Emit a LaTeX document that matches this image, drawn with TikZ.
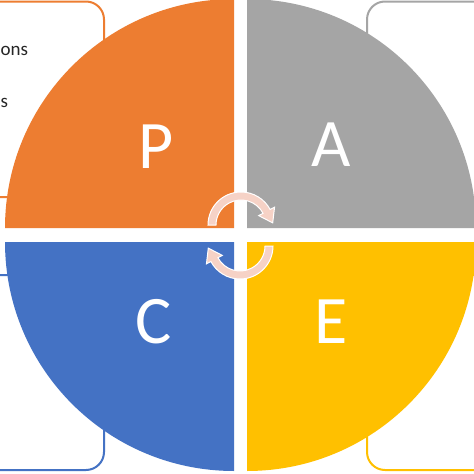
\documentclass[tikz,border=0pt]{standalone}
\usepackage{fontspec}
\setmainfont{Carlito}
\usetikzlibrary{calc}
\definecolor{porange}{HTML}{ED7D31}
\definecolor{pgray}{HTML}{A5A5A5}
\definecolor{pblue}{HTML}{4472C4}
\definecolor{pyellow}{HTML}{FFC000}
\definecolor{parrow}{HTML}{F6D2C6}
\definecolor{ptext}{HTML}{262626}
\tikzset{
  sidebox/.style={line width=2pt, rounded corners=18pt, fill=white},
  bigletter/.style={text=white, font=\fontsize{68}{68}\selectfont, inner sep=0pt},
  boxtext/.style={text=ptext, font=\fontsize{19}{23}\selectfont, inner sep=0pt},
  cyclearrow/.style={fill=parrow, draw=white, line width=1pt, line join=miter}
}
\begin{document}
\begin{tikzpicture}[x=1pt,y=1pt,yscale=-1]
\clip (0,0) rectangle (474,474);
\useasboundingbox (0,0) rectangle (474,474);
\fill[white] (0,0) rectangle (474,474);
% side boxes
\draw[sidebox, draw=porange] (-30,1.5) rectangle (104,197);
\draw[sidebox, draw=pgray] (367,1.5) rectangle (510,197);
\draw[sidebox, draw=pblue] (-30,275) rectangle (104,470);
\draw[sidebox, draw=pyellow] (367,275) rectangle (510,470);
\node[boxtext, anchor=base west] (t1) at (0.5,55) {ons};
\node[boxtext, anchor=base west] (t2) at (0.5,107) {s};
% quadrants
\fill[porange] (234,228) -- (5,228) arc[start angle=180, end angle=270, radius=229] -- cycle;
\fill[pgray] (247,228) -- (247,-1) arc[start angle=270, end angle=360, radius=229] -- cycle;
\fill[pblue] (234,242) -- (234,471) arc[start angle=90, end angle=180, radius=229] -- cycle;
\fill[pyellow] (247,242) -- (476,242) arc[start angle=0, end angle=90, radius=229] -- cycle;
% letters
\node[bigletter] (p) at (156,147) {P};
\node[bigletter] (a) at (331,145) {A};
\node[bigletter] (c) at (154,322) {C};
\node[bigletter] (e) at (331,322) {E};
% cycle arrows
\coordinate (c1) at (241,225);
\coordinate (c2) at (240,246);
\draw[cyclearrow] ($(c1)+(180:33)$) arc[start angle=180, end angle=332, radius=33]
  -- ($(c1)+(332:38)$) -- ($(c1)+(332:29)+(62:13)$) -- ($(c1)+(332:20)$)
  -- ($(c1)+(332:25)$) arc[start angle=332, end angle=180, radius=25] -- cycle;
\draw[cyclearrow] ($(c2)+(0:33)$) arc[start angle=0, end angle=152, radius=33]
  -- ($(c2)+(152:38)$) -- ($(c2)+(152:29)+(242:13)$) -- ($(c2)+(152:20)$)
  -- ($(c2)+(152:25)$) arc[start angle=152, end angle=0, radius=25] -- cycle;
\end{tikzpicture}
\end{document}
